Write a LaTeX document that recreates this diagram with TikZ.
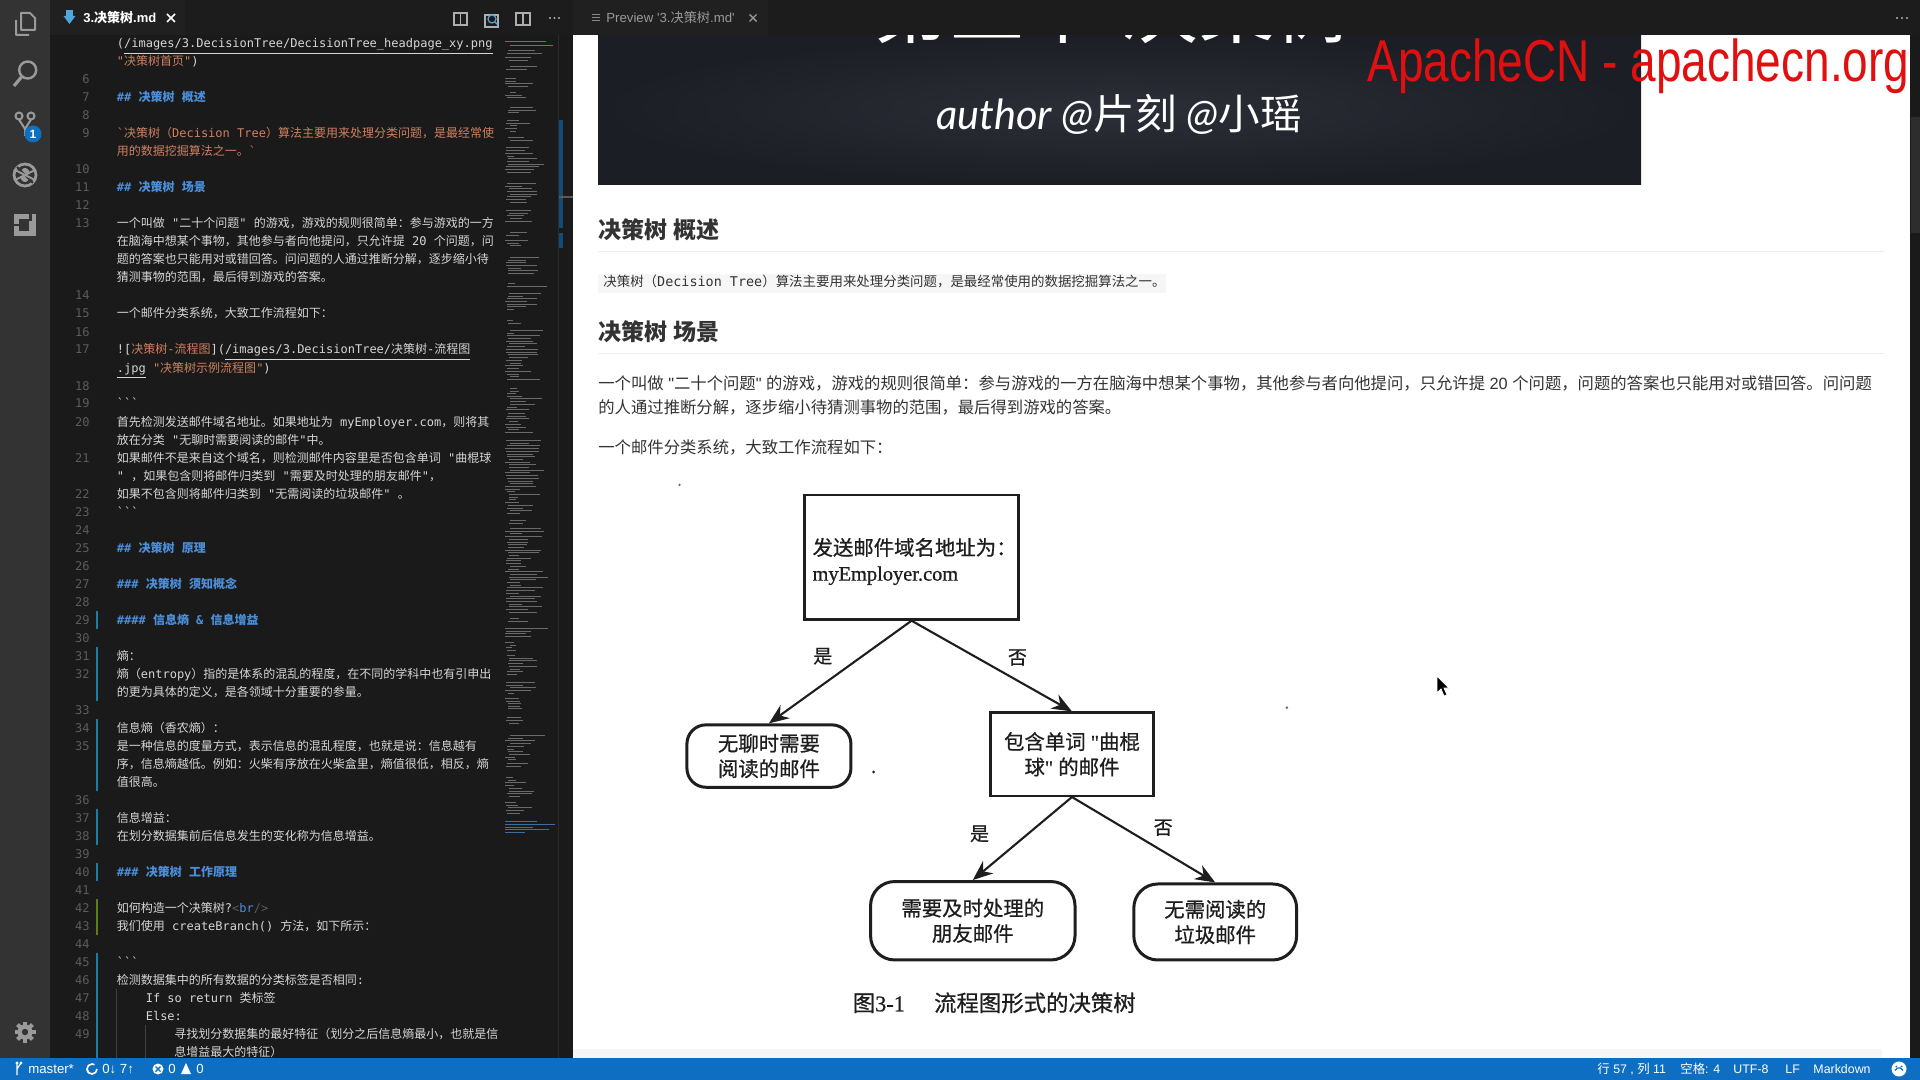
\documentclass[tikz,border=0pt]{standalone}
\usepackage{fontspec}
\usetikzlibrary{arrows.meta}
\newfontfamily\mymono{DejaVu Sans Mono}
\newfontfamily\mysans{Liberation Sans}
\newfontfamily\myapache[FakeBold=1.6]{Liberation Sans}
\newfontfamily\myserif[FakeBold=0.7]{Liberation Serif}
\newfontfamily\myital{Lato}
\newfontfamily\cjkf{Noto Sans CJK SC}
\newfontfamily\cjkd[FakeBold=0.7]{Noto Sans CJK SC}
\newfontfamily\arrowf{DejaVu Sans}
\let\latf\mysans
\newXeTeXintercharclass\cjkcls
\newcount\mycnt
\mycnt="2E80
\loop\XeTeXcharclass\mycnt=\cjkcls \ifnum\mycnt<"9FFF \advance\mycnt by 1 \repeat
\mycnt="FF00
\loop\XeTeXcharclass\mycnt=\cjkcls \ifnum\mycnt<"FFEF \advance\mycnt by 1 \repeat
\XeTeXinterchartokenstate=1
\XeTeXinterchartoks 0 \cjkcls={\cjkf}
\XeTeXinterchartoks \cjkcls 0={\latf}
\XeTeXinterchartoks 4095 \cjkcls={\cjkf}
\XeTeXinterchartoks 4095 0={\latf}
\XeTeXinterchartoks \cjkcls 4095={\latf}
\newcommand\hx[1]{\definecolor{#1}{HTML}{#1}}
\hx{F6F6F6}\hx{2D2D2D}\hx{23262E}\hx{E01010}\hx{EEEEEE}\hx{404040}\hx{6A6A6A}\hx{3E6E9E}\hx{A05F45}\hx{2B2B2B}\hx{5A5A5A}\hx{4FA8DC}\hx{888888}\hx{999999}\hx{0E70C0}\hx{2C2F37}\hx{1B1E25}
\definecolor{actbg}{HTML}{333333}
\definecolor{edbg}{HTML}{1A1A1A}
\definecolor{tabbg}{HTML}{1C1C1C}
\definecolor{tabon}{HTML}{202020}
\definecolor{edtxt}{HTML}{D6D6D6}
\definecolor{lnum}{HTML}{5C5C5C}
\definecolor{hblue}{HTML}{4B8FDB}
\definecolor{strc}{HTML}{CE8060}
\definecolor{stat}{HTML}{0E6EC2}
\definecolor{teal}{HTML}{1A7FA6}
\definecolor{olive}{HTML}{5B7F15}
\definecolor{ovr}{HTML}{0F4C78}
\definecolor{icong}{HTML}{9A9A9A}
\definecolor{ptxt}{HTML}{333333}
\definecolor{ink}{HTML}{1E1E1E}
\tikzset{
  ed/.style={inner sep=0pt,anchor=base west,text=edtxt,font=\let\latf\mymono\latf\fontsize{6}{8}\selectfont},
  edh/.style={ed,text=hblue,font=\let\latf\mymono\latf\fontsize{6}{8}\selectfont\bfseries},
  eds/.style={ed,text=strc},
  lno/.style={inner sep=0pt,anchor=base east,text=lnum,font=\let\latf\mymono\latf\fontsize{6}{8}\selectfont},
  stt/.style={inner sep=0pt,anchor=base west,text=white,font=\let\latf\mysans\latf\fontsize{6.2}{8}\selectfont},
  sttl/.style={stt,font=\let\latf\mysans\latf\fontsize{6.6}{8}\selectfont},
  ph/.style={inner sep=0pt,anchor=base west,text=ptxt,font=\let\latf\mysans\latf\fontsize{11.5}{14}\selectfont\bfseries},
  pp/.style={inner sep=0pt,anchor=base west,text=ptxt,font=\let\latf\mysans\latf\fontsize{8.17}{10}\selectfont},
  rectbox/.style={draw=ink,fill=white,line width=1.2pt,inner sep=2pt,text=ink,align=center,
     font=\let\latf\myserif\let\cjkf\cjkd\latf\fontsize{10.2}{12.7}\selectfont},
  pillbox/.style={rectbox,line width=1.5pt,rounded corners=9.5pt},
  branch/.style={draw=ink,line width=1.05pt,-{Stealth[length=10pt,width=8pt]}},
  lab/.style={inner sep=0pt,text=ink,font=\let\latf\myserif\let\cjkf\cjkd\latf\fontsize{9.5}{11}\selectfont},
  ico/.style={draw=icong,line width=.8pt,fill=none},
  icf/.style={fill=icong,draw=none},
  mm/.style={fill=#1,draw=none},
}
\newcommand\EL[2]{\node[ed] at (116.5,#1+4) {#2};}
\newcommand\EH[2]{\node[edh] at (116.5,#1+4) {#2};}
\begin{document}
\begin{tikzpicture}[x=0.5pt,y=-0.5pt]
\useasboundingbox (0,0) rectangle (1920,1080);
\clip (0,0) rectangle (1920,1080);
% backgrounds
\fill[edbg] (0,0) rectangle (1920,1080);
\fill[actbg] (0,0) rectangle (50,1058);
\fill[white] (573,35) rectangle (1910,1058);
\fill[F6F6F6] (573,1049) rectangle (1882,1058);
\fill[2D2D2D] (1911,117) rectangle (1920,233);
% banner
\shade[inner color=2C2F37,outer color=1B1E25] (598,35) rectangle (1641,185);
\begin{scope}
\clip (598,35) rectangle (1641,185);
\node[inner sep=0pt,anchor=base,text=white,font=\let\latf\mysans\latf\fontsize{38}{40}\selectfont] at (1112,38) {第三章 决策树};
\end{scope}
\node[inner sep=0pt,anchor=base,text=white,font=\let\latf\myital\latf\fontsize{20.8}{22}\selectfont\itshape] (authortxt) at (1119,130) {author @片刻 @小瑶};
\node[inner sep=0pt,anchor=base west,text=E01010] (apache) at (1367,82) {\resizebox*{271pt}{27.5pt}{\fontsize{20}{22}\myapache\selectfont ApacheCN - apachecn.org}};
% preview text
\node[ph] at (598,239) {决策树 概述};
\draw[EEEEEE,line width=.5pt] (598,252) -- (1884,252);
\fill[F6F6F6] (598,274) rectangle (1166,293);
\node[inner sep=0pt,anchor=base west,text=ptxt,font=\let\latf\mymono\latf\fontsize{6.72}{8}\selectfont] at (603,286.5) {决策树（Decision Tree）算法主要用来处理分类问题，是最经常使用的数据挖掘算法之一。};
\node[ph] at (598,341) {决策树 场景};
\draw[EEEEEE,line width=.5pt] (598,354) -- (1884,354);
\node[pp] at (598,389) {一个叫做 "二十个问题" 的游戏，游戏的规则很简单：参与游戏的一方在脑海中想某个事物，其他参与者向他提问，只允许提 20 个问题，问题的答案也只能用对或错回答。问问题};
\node[pp] at (598,413.5) {的人通过推断分解，逐步缩小待猜测事物的范围，最后得到游戏的答案。};
\node[pp] at (598,453) {一个邮件分类系统，大致工作流程如下：};
% flow diagram (coordinates of the tree in a scaled frame)
\begin{scope}[x=0.6122pt,y=-0.6122pt]
\node[rectbox,minimum width=107pt,minimum height=62.4pt,text width=99pt,align=left] (root) at (744.5,455) {\rule{0pt}{13pt}发送邮件域名地址为：\\myEmployer.com};
\node[pillbox,minimum width=82pt,minimum height=31.2pt] (bored) at (628,617.5) {无聊时需要\\阅读的邮件};
\node[rectbox,minimum width=81.4pt,minimum height=41.6pt] (hockey) at (875.5,616) {包含单词 "曲棍\\球" 的邮件};
\node[pillbox,minimum width=102.2pt,minimum height=39.2pt,rounded corners=12pt] (friend) at (794.5,752) {需要及时处理的\\朋友邮件};
\node[pillbox,minimum width=81.4pt,minimum height=38pt,rounded corners=12pt] (spam) at (992.5,753) {无需阅读的\\垃圾邮件};
\draw[branch] (root.south) -- (bored.north);
\draw[branch] (root.south) -- (hockey.north);
\draw[branch] (hockey.south) -- (friend.north);
\draw[branch] (hockey.south) -- (spam.north);
\node[lab] (l1) at (672,536) {是};
\node[lab] (l2) at (831,537) {否};
\node[lab] (l3) at (800,681) {是};
\node[lab] (l4) at (950,676) {否};
\node[lab,font=\let\latf\myserif\let\cjkf\cjkd\latf\fontsize{11.2}{13}\selectfont] (cap) at (812,819) {图3-1\hspace{1.3em}流程图形式的决策树};
\fill[ink] (713.5,630.5) circle (.8pt);
\fill[ink!70] (1051,578) circle (.7pt);
\fill[ink!70] (555,396) circle (.6pt);
\end{scope}
% mouse cursor
\filldraw[fill=black,draw=white,line width=.4pt] (1437,676) -- ++(0,17) -- ++(4,-4) -- ++(3,7) -- ++(3,-1) -- ++(-3,-7) -- ++(5,0) -- cycle;
% editor gutter bars
\fill[teal] (95.5,611) rectangle (98,629);
\fill[teal] (95.5,647) rectangle (98,701);
\fill[teal] (95.5,719) rectangle (98,791);
\fill[teal] (95.5,809) rectangle (98,845);
\fill[teal] (95.5,863) rectangle (98,881);
\fill[olive] (95.5,899) rectangle (98,935);
\fill[teal] (95.5,953) rectangle (98,1058);
\draw[404040,line width=.4pt] (116.5,989) -- (116.5,1058);
\draw[404040,line width=.4pt] (145.4,1025) -- (145.4,1058);
% line numbers
\foreach \n/\y in {6/80,7/98,8/116,9/134,10/170,11/188,12/206,13/224,14/296,15/314,16/332,17/350,18/386,19/404,20/422,21/458,22/494,23/512,24/530,25/548,26/566,27/584,28/602,29/620,30/638,31/656,32/674,33/710,34/728,35/746,36/800,37/818,38/836,39/854,40/872,41/890,42/908,43/926,44/944,45/962,46/980,47/998,48/1016,49/1034}
  {\node[lno] at (90,\y+4) {\n};}
% editor text
\EL{44}{(\underline{/images/3.DecisionTree/DecisionTree\_headpage\_xy.png}}
\EL{62}{\textcolor{strc}{"决策树首页"})}
\EH{98}{\#\# 决策树 概述}
\node[eds] at (116.5,138) {`决策树（Decision Tree）算法主要用来处理分类问题，是最经常使};
\node[eds] at (116.5,156) {用的数据挖掘算法之一。`};
\EH{188}{\#\# 决策树 场景}
\EL{224}{一个叫做 "二十个问题" 的游戏，游戏的规则很简单：参与游戏的一方}
\EL{242}{在脑海中想某个事物，其他参与者向他提问，只允许提 20 个问题，问}
\EL{260}{题的答案也只能用对或错回答。问问题的人通过推断分解，逐步缩小待}
\EL{278}{猜测事物的范围，最后得到游戏的答案。}
\EL{314}{一个邮件分类系统，大致工作流程如下：}
\EL{350}{![\textcolor{strc}{决策树-流程图}](\underline{/images/3.DecisionTree/决策树-流程图}}
\EL{368}{\underline{.jpg} \textcolor{strc}{"决策树示例流程图"})}
\EL{404}{```}
\EL{422}{首先检测发送邮件域名地址。如果地址为 myEmployer.com，则将其}
\EL{440}{放在分类 "无聊时需要阅读的邮件"中。}
\EL{458}{如果邮件不是来自这个域名，则检测邮件内容里是否包含单词 "曲棍球}
\EL{476}{" ，如果包含则将邮件归类到 "需要及时处理的朋友邮件"，}
\EL{494}{如果不包含则将邮件归类到 "无需阅读的垃圾邮件" 。}
\EL{512}{```}
\EH{548}{\#\# 决策树 原理}
\EH{584}{\#\#\# 决策树 须知概念}
\EH{620}{\#\#\#\# 信息熵 \& 信息增益}
\EL{656}{熵：}
\EL{674}{熵（entropy）指的是体系的混乱的程度，在不同的学科中也有引申出}
\EL{692}{的更为具体的定义，是各领域十分重要的参量。}
\EL{728}{信息熵（香农熵）：}
\EL{746}{是一种信息的度量方式，表示信息的混乱程度，也就是说：信息越有}
\EL{764}{序，信息熵越低。例如：火柴有序放在火柴盒里，熵值很低，相反，熵}
\EL{782}{值很高。}
\EL{818}{信息增益：}
\EL{836}{在划分数据集前后信息发生的变化称为信息增益。}
\EH{872}{\#\#\# 决策树 工作原理}
\EL{908}{如何构造一个决策树?\textcolor{lnum}{<}\textcolor{hblue}{br}\textcolor{lnum}{/>}}
\EL{926}{我们使用 createBranch() 方法，如下所示：}
\EL{962}{```}
\EL{980}{检测数据集中的所有数据的分类标签是否相同:}
\node[ed] at (145.4,1002) {If so return 类标签};
\node[ed] at (145.4,1020) {Else:};
\node[ed] at (174,1038) {寻找划分数据集的最好特征（划分之后信息熵最小，也就是信};
\node[ed] at (174,1056) {息增益最大的特征）};
% minimap
\pgfmathsetseed{11}
\foreach \ya/\yb/\ww in {50/53/50,57/60/46,66/70/30,78/88/30,92/100/34,107/115/30,120/132/34,137/140/30,147/150/28,153/173/36,183/203/30,210/222/28,232/235/20,240/247/24,257/275/32,283/286/40,293/310/32,320/323/26,330/358/34,360/380/36,388/391/18,393/410/38,413/433/32,440/513/36,520/523/16,528/613/40,618/623/24,628/637/44,642/645/16,647/650/14,655/675/34,682/693/30,698/701/14,703/710/24,717/720/16,720/725/26,735/760/36,763/768/30,777/797/26,802/813/24}{
  \pgfmathsetmacro{\yc}{\ya+2.7}
  \foreach \yy in {\ya,\yc,...,\yb}{
    \pgfmathrandominteger{\wa}{6}{\ww}
    \pgfmathrandominteger{\ia}{0}{5}
    \fill[mm=6A6A6A] (505+\ia,\yy) rectangle (505+\ia+\wa,\yy+0.9);
  }
}
\foreach \i/\w in {0/32,1/50,2/28,3/44,4/20}{
  \fill[mm=3E6E9E] (505,821+\i*2.8) rectangle (505+\w,822+\i*2.8);
}
\fill[mm=A05F45] (510,41) rectangle (546,42);
\fill[mm=A05F45] (510,45) rectangle (553,46);
\fill[mm=6A6A6A] (505,41) rectangle (510,42);
\draw[2B2B2B,line width=.4pt] (558.5,35) -- (558.5,1058);
\fill[ovr] (558.5,120) rectangle (563,228);
\fill[ovr] (558.5,233) rectangle (563,248);
\fill[5A5A5A] (558.5,196.5) rectangle (572.5,198);
% tab bar
\fill[tabbg] (0,0) rectangle (1920,35);
\fill[tabon] (50,0) rectangle (185,35);
\fill[tabon] (573,0) rectangle (768,35);
\fill[actbg] (0,0) rectangle (50,35);
% tab 1
\fill[4FA8DC] (66,10) rectangle (73,17);
\fill[4FA8DC] (63.5,16) -- (75.5,16) -- (69.5,24) -- cycle;
\node[inner sep=0pt,anchor=base west,text=white,font=\let\latf\mysans\latf\fontsize{6.5}{8}\selectfont\bfseries] at (83,22.5) {3.决策树.md};
\draw[white,line width=.8pt] (167,14) -- (175,22) (167,22) -- (175,14);
% editor actions
\draw[icong!80!white,line width=.6pt] (454,13) rectangle (467,25) (460.5,13) -- (460.5,25);
\draw[icong!80!white,line width=.6pt] (485,15) rectangle (498,27);
\draw[4FA8DC,line width=.6pt,fill=tabbg] (492,19) circle (4) (495,22) -- (498,25);
\draw[icong!80!white,line width=.7pt] (516,13) rectangle (530,25) (523,13) -- (523,25) (516,13) -- (530,13);
\foreach \x in {550,554.5,559}{\fill[icong!80!white] (\x,18) circle (1.2);}
% tab 2
\foreach \y in {15,18,21}{\draw[888888,line width=.5pt] (592,\y) -- (600,\y);}
\node[inner sep=0pt,anchor=base west,text=999999,font=\let\latf\mysans\latf\fontsize{6.6}{8}\selectfont] at (606,22.5) {Preview '3.决策树.md'};
\draw[999999,line width=.7pt] (749.5,14.5) -- (756.5,21.5) (749.5,21.5) -- (756.5,14.5);
\foreach \x in {1897,1902,1907}{\fill[icong!80!white] (\x,18) circle (1.1);}
% activity icons
\draw[ico,line width=1pt,line join=round] (16,20) -- (16,35) -- (29,35) (21,20.5) -- (21,13) -- (30,13) -- (35,18) -- (35,30) -- (21,30) -- cycle;
\draw[ico,line width=1.2pt] (27.7,70) circle (8.5);
\draw[ico,line width=1.6pt] (21.5,77) -- (14,86);
\draw[ico,line width=1pt] (19,116) circle (3.5) (31,116) circle (3.5) (19,119.5) -- (25,129) -- (31,119.5) (25,129) -- (25,136);
\fill[0E70C0] (33,134) circle (8.5);
\node[inner sep=0pt,text=white,font=\let\latf\mysans\latf\fontsize{6}{7}\selectfont\bfseries] (badge) at (33,134) {1};
\draw[ico,line width=1.4pt] (25,175) circle (11);
\fill[icong] (25,175) ellipse (5 and 7);
\draw[actbg,line width=1pt] (17,167) -- (33,183) (18,175) -- (32,175);
\draw[ico,line width=1pt] (15,170) -- (35,180) (15,180) -- (35,170);
\fill[icong] (14,214) rectangle (36,236);
\fill[actbg] (19,219) rectangle (29,231);
\fill[actbg] (29,214) rectangle (31.5,221);
\fill[actbg] (14,224) rectangle (19,226);
\foreach \a in {0,45,...,315}{\fill[icong,rotate around={\a:(25,1032)}] (23,1021.5) rectangle (27,1027);}
\fill[icong] (25,1032) circle (7.5);
\fill[actbg] (25,1032) circle (3.2);
% status bar
\fill[stat] (0,1058) rectangle (1920,1080);
\draw[white,line width=.6pt] (17,1063) -- (17,1075) (17,1069) -- (21,1063) (17,1063) circle (.8) (21,1063) circle (.8);
\node[sttl] at (28,1073) {master*};
\draw[white,line width=.8pt] (97,1069) arc (0:300:5);
\draw[white,line width=.8pt] (87,1069) arc (180:120:5);
\node[sttl] at (102,1073) {0{\arrowf ↓} 7{\arrowf ↑}};
\fill[white] (158,1069) circle (5.5);
\draw[stat,line width=.7pt] (155.5,1066.5) -- (160.5,1071.5) (155.5,1071.5) -- (160.5,1066.5);
\node[sttl] at (168,1073) {0};
\fill[white] (186,1063) -- (191,1074) -- (181,1074) -- cycle;
\node[sttl] at (196,1073) {0};
\node[stt] at (1597,1073) {行 57 , 列 11};
\node[stt] at (1680,1073) {空格: 4};
\node[stt] at (1733,1073) {UTF-8};
\node[stt] at (1785,1073) {LF};
\node[stt] at (1813,1073) {Markdown};
\fill[white] (1899,1069) circle (7.5);
\fill[stat] (1896.3,1066.5) circle (1) (1901.7,1066.5) circle (1);
\draw[stat,line width=.6pt] (1895,1070.5) arc (200:340:4.2);
\end{tikzpicture}
\end{document}
